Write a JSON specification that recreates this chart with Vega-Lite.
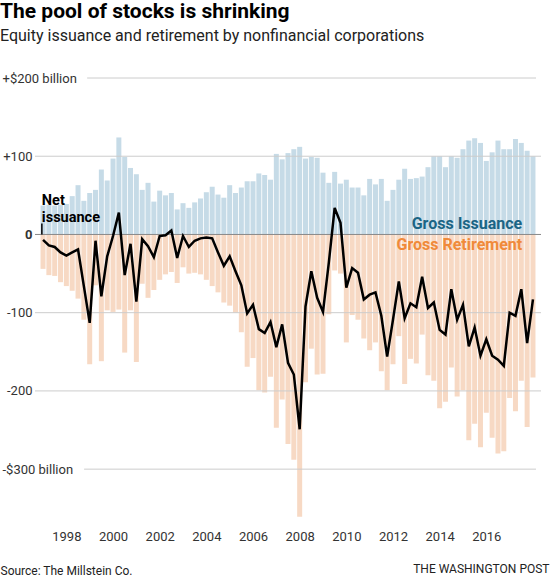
{
  "$schema": "https://vega.github.io/schema/vega-lite/v6.json",
  "width": 506,
  "height": 442,
  "autosize": {"type": "none"},
  "padding": {"left": 35, "top": 78, "right": 11, "bottom": 56},
  "background": "white",
  "title": {
    "text": "The pool of stocks is shrinking",
    "subtitle": "Equity issuance and retirement by nonfinancial corporations",
    "anchor": "start",
    "frame": "group",
    "dx": -35,
    "offset": 28,
    "font": "Roboto",
    "fontSize": 21,
    "fontWeight": "bold",
    "color": "#000000",
    "subtitleFont": "Roboto",
    "subtitleFontSize": 16,
    "subtitleColor": "#222222",
    "subtitlePadding": 6
  },
  "data": {
    "values": [
      {"t": 1997.00, "iss": 37, "ret": -44, "net": -7},
      {"t": 1997.25, "iss": 38, "ret": -52, "net": -14},
      {"t": 1997.50, "iss": 37, "ret": -53, "net": -16},
      {"t": 1997.75, "iss": 38, "ret": -61, "net": -23},
      {"t": 1998.00, "iss": 39, "ret": -66, "net": -27},
      {"t": 1998.25, "iss": 49, "ret": -72, "net": -23},
      {"t": 1998.50, "iss": 63, "ret": -82, "net": -19},
      {"t": 1998.75, "iss": 43, "ret": -109, "net": -66},
      {"t": 1999.00, "iss": 53, "ret": -166, "net": -113},
      {"t": 1999.25, "iss": 57, "ret": -65, "net": -8},
      {"t": 1999.50, "iss": 83, "ret": -162, "net": -79},
      {"t": 1999.75, "iss": 69, "ret": -97, "net": -28},
      {"t": 2000.00, "iss": 97, "ret": -99, "net": -2},
      {"t": 2000.25, "iss": 124, "ret": -96, "net": 28},
      {"t": 2000.50, "iss": 99, "ret": -151, "net": -52},
      {"t": 2000.75, "iss": 85, "ret": -97, "net": -12},
      {"t": 2001.00, "iss": 77, "ret": -163, "net": -86},
      {"t": 2001.25, "iss": 57, "ret": -63, "net": -6},
      {"t": 2001.50, "iss": 66, "ret": -81, "net": -15},
      {"t": 2001.75, "iss": 42, "ret": -71, "net": -29},
      {"t": 2002.00, "iss": 56, "ret": -58, "net": -2},
      {"t": 2002.25, "iss": 50, "ret": -51, "net": -1},
      {"t": 2002.50, "iss": 53, "ret": -48, "net": 5},
      {"t": 2002.75, "iss": 32, "ret": -62, "net": -30},
      {"t": 2003.00, "iss": 40, "ret": -42, "net": -2},
      {"t": 2003.25, "iss": 34, "ret": -50, "net": -16},
      {"t": 2003.50, "iss": 41, "ret": -49, "net": -8},
      {"t": 2003.75, "iss": 46, "ret": -51, "net": -5},
      {"t": 2004.00, "iss": 54, "ret": -58, "net": -4},
      {"t": 2004.25, "iss": 61, "ret": -66, "net": -5},
      {"t": 2004.50, "iss": 51, "ret": -74, "net": -23},
      {"t": 2004.75, "iss": 47, "ret": -87, "net": -40},
      {"t": 2005.00, "iss": 63, "ret": -91, "net": -28},
      {"t": 2005.25, "iss": 53, "ret": -100, "net": -47},
      {"t": 2005.50, "iss": 60, "ret": -125, "net": -65},
      {"t": 2005.75, "iss": 68, "ret": -169, "net": -101},
      {"t": 2006.00, "iss": 68, "ret": -158, "net": -90},
      {"t": 2006.25, "iss": 78, "ret": -199, "net": -121},
      {"t": 2006.50, "iss": 76, "ret": -202, "net": -126},
      {"t": 2006.75, "iss": 70, "ret": -182, "net": -112},
      {"t": 2007.00, "iss": 103, "ret": -247, "net": -144},
      {"t": 2007.25, "iss": 96, "ret": -211, "net": -115},
      {"t": 2007.50, "iss": 104, "ret": -268, "net": -164},
      {"t": 2007.75, "iss": 109, "ret": -288, "net": -179},
      {"t": 2008.00, "iss": 112, "ret": -361, "net": -249},
      {"t": 2008.25, "iss": 97, "ret": -189, "net": -92},
      {"t": 2008.50, "iss": 99, "ret": -146, "net": -47},
      {"t": 2008.75, "iss": 98, "ret": -179, "net": -81},
      {"t": 2009.00, "iss": 79, "ret": -178, "net": -99},
      {"t": 2009.25, "iss": 66, "ret": -102, "net": -36},
      {"t": 2009.50, "iss": 80, "ret": -46, "net": 34},
      {"t": 2009.75, "iss": 65, "ret": -50, "net": 15},
      {"t": 2010.00, "iss": 70, "ret": -138, "net": -68},
      {"t": 2010.25, "iss": 60, "ret": -103, "net": -43},
      {"t": 2010.50, "iss": 60, "ret": -109, "net": -49},
      {"t": 2010.75, "iss": 50, "ret": -133, "net": -83},
      {"t": 2011.00, "iss": 71, "ret": -148, "net": -77},
      {"t": 2011.25, "iss": 64, "ret": -138, "net": -74},
      {"t": 2011.50, "iss": 71, "ret": -175, "net": -104},
      {"t": 2011.75, "iss": 43, "ret": -199, "net": -156},
      {"t": 2012.00, "iss": 57, "ret": -166, "net": -109},
      {"t": 2012.25, "iss": 70, "ret": -130, "net": -60},
      {"t": 2012.50, "iss": 84, "ret": -191, "net": -107},
      {"t": 2012.75, "iss": 71, "ret": -159, "net": -88},
      {"t": 2013.00, "iss": 72, "ret": -165, "net": -93},
      {"t": 2013.25, "iss": 74, "ret": -128, "net": -54},
      {"t": 2013.50, "iss": 86, "ret": -180, "net": -94},
      {"t": 2013.75, "iss": 100, "ret": -187, "net": -87},
      {"t": 2014.00, "iss": 100, "ret": -222, "net": -122},
      {"t": 2014.25, "iss": 86, "ret": -214, "net": -128},
      {"t": 2014.50, "iss": 100, "ret": -170, "net": -70},
      {"t": 2014.75, "iss": 98, "ret": -207, "net": -109},
      {"t": 2015.00, "iss": 109, "ret": -199, "net": -90},
      {"t": 2015.25, "iss": 120, "ret": -263, "net": -143},
      {"t": 2015.50, "iss": 123, "ret": -242, "net": -119},
      {"t": 2015.75, "iss": 117, "ret": -272, "net": -155},
      {"t": 2016.00, "iss": 94, "ret": -228, "net": -134},
      {"t": 2016.25, "iss": 105, "ret": -260, "net": -155},
      {"t": 2016.50, "iss": 120, "ret": -280, "net": -160},
      {"t": 2016.75, "iss": 109, "ret": -277, "net": -168},
      {"t": 2017.00, "iss": 109, "ret": -209, "net": -100},
      {"t": 2017.25, "iss": 122, "ret": -226, "net": -104},
      {"t": 2017.50, "iss": 117, "ret": -187, "net": -70},
      {"t": 2017.75, "iss": 107, "ret": -246, "net": -139},
      {"t": 2018.00, "iss": 100, "ret": -183, "net": -83}
    ]
  },
  "resolve": {"axis": {"x": "independent", "y": "independent"}},
  "layer": [
    {
      "mark": {"type": "bar", "width": 5, "color": "#c6dbe7"},
      "encoding": {
        "x": {
          "field": "t",
          "type": "quantitative",
          "scale": {"domain": [1996.87, 2018.13], "nice": false, "zero": false},
          "axis": null
        },
        "y": {
          "field": "iss",
          "type": "quantitative",
          "scale": {"domain": [-365, 200], "nice": false},
          "axis": {
            "orient": "left",
            "values": [-200, -100, 0, 100],
            "labelExpr": "datum.value == 100 ? '+100' : datum.value == -100 ? '-100' : datum.value == -200 ? '-200' : '0'",
            "grid": false,
            "domain": false,
            "ticks": false,
            "tickSize": 0,
            "labelOverlap": false,
            "labelBaseline": "middle",
            "labelAlign": "right",
            "labelPadding": 3,
            "labelFontSize": 13,
            "labelColor": "#333333",
            "labelFontWeight": {"condition": {"test": "datum.value == 0", "value": "bold"}, "value": "normal"},
            "title": "THE WASHINGTON POST",
            "titleAngle": 0,
            "titleX": 514,
            "titleY": 494,
            "titleAlign": "right",
            "titleBaseline": "alphabetic",
            "titleFontSize": 12,
            "titleFontWeight": "normal",
            "titleColor": "#222222"
          }
        }
      }
    },
    {
      "mark": {"type": "bar", "width": 5, "color": "#f7d9c4"},
      "encoding": {
        "x": {"field": "t", "type": "quantitative", "axis": null},
        "y": {"field": "ret", "type": "quantitative", "axis": null}
      }
    },
    {
      "data": {"values": [{"g": 100}, {"g": -100}, {"g": -200}]},
      "mark": {"type": "rule", "color": "#cccccc", "strokeWidth": 1},
      "encoding": {"y": {"field": "g", "type": "quantitative", "axis": null}}
    },
    {
      "data": {"values": [{}]},
      "mark": {"type": "rule", "color": "#cccccc", "strokeWidth": 1},
      "encoding": {
        "x": {"datum": 1998.89, "type": "quantitative", "axis": null},
        "x2": {"datum": 2018.13},
        "y": {
          "datum": 200,
          "type": "quantitative",
          "axis": {
            "orient": "left",
            "values": [200, -300],
            "labelExpr": "datum.value == 200 ? '+$200 billion' : '-$300 billion'",
            "grid": false,
            "domain": false,
            "ticks": false,
            "tickSize": 0,
            "labelOverlap": false,
            "labelBaseline": "middle",
            "labelAlign": "left",
            "labelPadding": 33,
            "labelFontSize": 13,
            "labelColor": "#333333",
            "title": null
          }
        }
      }
    },
    {
      "data": {"values": [{}]},
      "mark": {"type": "rule", "color": "#cccccc", "strokeWidth": 1},
      "encoding": {
        "x": {"datum": 1998.76, "type": "quantitative", "axis": null},
        "x2": {"datum": 2018.13},
        "y": {"datum": -300, "type": "quantitative", "axis": null}
      }
    },
    {
      "data": {"values": [{}]},
      "mark": {"type": "rule", "color": "#888888", "strokeWidth": 1},
      "encoding": {"y": {"datum": 0, "type": "quantitative", "axis": null}}
    },
    {
      "mark": {"type": "line", "color": "#000000", "strokeWidth": 2.5},
      "encoding": {
        "x": {
          "field": "t",
          "type": "quantitative",
          "axis": {
            "orient": "bottom",
            "values": [1998, 2000, 2002, 2004, 2006, 2008, 2010, 2012, 2014, 2016],
            "labelExpr": "'' + datum.value",
            "grid": false,
            "domain": false,
            "ticks": false,
            "tickSize": 0,
            "labelPadding": 10,
            "labelFontSize": 13,
            "labelColor": "#333333",
            "labelFlush": false,
            "labelOverlap": false,
            "title": "Source: The Millstein Co.",
            "titleX": -35,
            "titleY": 54,
            "titleAlign": "left",
            "titleBaseline": "alphabetic",
            "titleFontSize": 12,
            "titleFontWeight": "normal",
            "titleColor": "#222222"
          }
        },
        "y": {"field": "net", "type": "quantitative", "axis": null}
      }
    },
    {
      "data": {"values": [{}]},
      "mark": {"type": "rule", "color": "#000000", "strokeWidth": 1.5},
      "encoding": {
        "x": {"datum": 1996.95, "type": "quantitative", "axis": null},
        "y": {"datum": 0, "type": "quantitative", "axis": null},
        "y2": {"datum": 14}
      }
    },
    {
      "data": {"values": [{}]},
      "mark": {"type": "text", "text": ["Net", "issuance"], "align": "left", "baseline": "alphabetic", "font": "Roboto", "fontSize": 14.5, "fontWeight": "bold", "lineHeight": 17, "color": "#000000"},
      "encoding": {
        "x": {"datum": 1996.95, "type": "quantitative", "axis": null},
        "y": {"datum": 38, "type": "quantitative", "axis": null}
      }
    },
    {
      "data": {"values": [{}]},
      "mark": {"type": "text", "text": "Gross Issuance", "align": "right", "baseline": "alphabetic", "font": "Roboto", "fontSize": 16, "fontWeight": "bold", "color": "#1b6585"},
      "encoding": {
        "x": {"datum": 2017.54, "type": "quantitative", "axis": null},
        "y": {"datum": 6.4, "type": "quantitative", "axis": null}
      }
    },
    {
      "data": {"values": [{}]},
      "mark": {"type": "text", "text": "Gross Retirement", "align": "right", "baseline": "alphabetic", "font": "Roboto", "fontSize": 16, "fontWeight": "bold", "color": "#f08a3a"},
      "encoding": {
        "x": {"datum": 2017.54, "type": "quantitative", "axis": null},
        "y": {"datum": -20.5, "type": "quantitative", "axis": null}
      }
    }
  ],
  "config": {
    "view": {"stroke": null},
    "font": "Roboto"
  }
}
